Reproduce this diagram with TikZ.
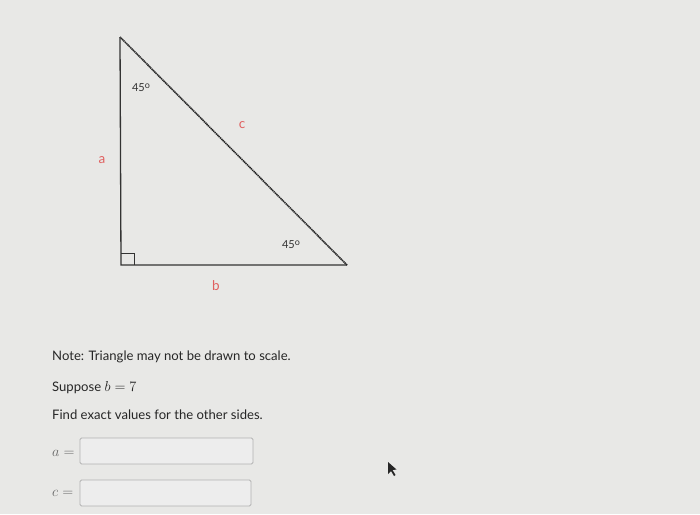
\documentclass[tikz,border=0pt]{standalone}
\usepackage{fontspec}
\setmainfont{Lato}
\begin{document}
\begin{tikzpicture}[x=1pt,y=-1pt,
  lbl/.style={text=labred,font=\fontsize{13.5}{13.5}\selectfont,inner sep=0pt},
  ang/.style={text=black!80,font=\fontsize{11}{11}\selectfont,inner sep=0pt},
  txt/.style={anchor=base west,inner sep=0pt,font=\fontsize{13.1}{15}\selectfont,text=black!85},
  ansbox/.style={draw=black!30,fill=white!93!black,rounded corners=1.5pt,line width=0.8pt},
]
\definecolor{bgc}{HTML}{E8E8E6}
\definecolor{labred}{HTML}{E06060}
\fill[bgc] (0,0) rectangle (700,514);
\useasboundingbox (0,0) rectangle (700,514);
% triangle
\coordinate (T) at (120,37);
\coordinate (L) at (121,265);
\coordinate (R) at (347,265);
\draw[line width=1.3pt,black!80] (T) -- (L) -- (R);
\draw[line width=1.6pt,black!85,dash pattern=on 1.3pt off 0.6pt] (R) -- (T);
\draw[line width=0.9pt,black!80] (121,253) -- (134,253) -- (134,265);
\node[ang] (a1) at (141,88) {45\raisebox{3pt}{\fontsize{9}{9}\selectfont o}};
\node[ang] (a2) at (291,245) {45\raisebox{3pt}{\fontsize{9}{9}\selectfont o}};
\node[lbl] (lc) at (242,125) {c};
\node[lbl] (la) at (102,160) {a};
\node[lbl] (lb) at (216,286) {b};
% text
\node[txt] (n1) at (52,360) {Note: Triangle may not be drawn to scale.};
\node[txt] (n2) at (52,391) {Suppose \fontsize{14}{15}\selectfont$b = 7$};
\node[txt] (n3) at (52,419) {Find exact values for the other sides.};
\node[txt,text=black!60,font=\fontsize{14}{15}\selectfont] (ea) at (52,456) {$a =$};
\node[txt,text=black!60,font=\fontsize{14}{15}\selectfont] (ec) at (52,496) {$c =$};
\draw[ansbox] (80,438) rectangle (253,464) node[pos=0.5] (ba) {};
\draw[ansbox] (80,480) rectangle (251,506) node[pos=0.5] (bc) {};
% cursor
\fill[black!85] (388,462) -- (388,474) -- (391,471) -- (394,476) -- (395.5,475) -- (392.5,470) -- (396.5,469.5) -- cycle;
\end{tikzpicture}
\end{document}
